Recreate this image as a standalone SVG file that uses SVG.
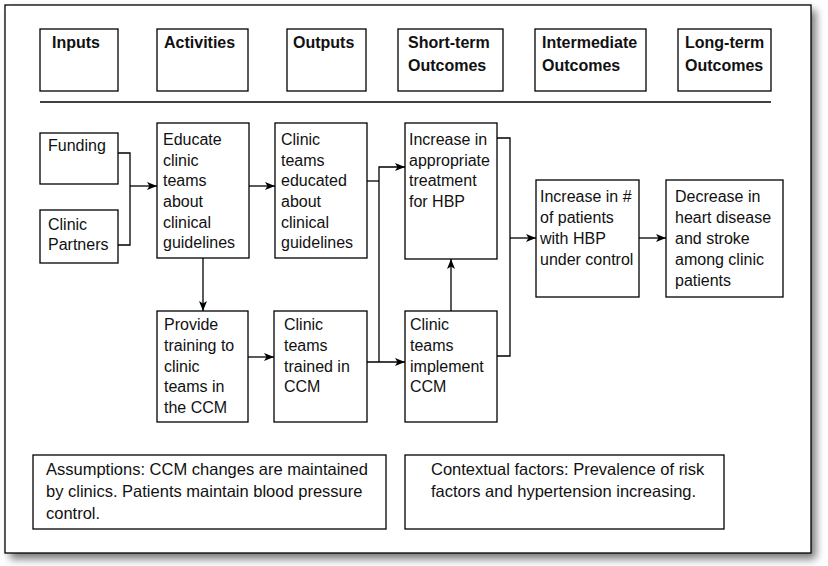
<svg xmlns="http://www.w3.org/2000/svg" width="828" height="566" viewBox="0 0 828 566">
<defs>
<style>
.box{fill:#fff;stroke:#000;stroke-width:1.3}
.t{font-family:"Liberation Sans",Arial,sans-serif;font-size:16px;fill:#111}
.h{font-family:"Liberation Sans",Arial,sans-serif;font-size:16px;font-weight:bold;fill:#111}
.b{font-family:"Liberation Sans",Arial,sans-serif;font-size:16.5px;fill:#111}
.c{fill:none;stroke:#000;stroke-width:1.3}
</style>
<marker id="ah" viewBox="0 0 10 8" refX="10" refY="4" markerWidth="10" markerHeight="8" markerUnits="userSpaceOnUse" orient="auto">
<path d="M0,0 L10,4 L0,8 L2.5,4 Z" fill="#000"/>
</marker>
<filter id="sh" x="-5%" y="-5%" width="110%" height="110%">
<feGaussianBlur stdDeviation="4"/>
</filter>
</defs>
<rect width="828" height="566" fill="#fff"/>
<rect x="10" y="10" width="806" height="549" fill="#777" filter="url(#sh)"/>
<rect id="frame" x="5" y="5" width="806" height="548" fill="#fff" stroke="#000" stroke-width="1.3"/>

<g id="h-inputs"><rect class="box" x="40" y="29" width="78" height="62"/><text class="h" x="52" y="48">Inputs</text></g>
<g id="h-activities"><rect class="box" x="157" y="29" width="91" height="62"/><text class="h" x="164" y="48">Activities</text></g>
<g id="h-outputs"><rect class="box" x="287" y="29" width="79" height="62"/><text class="h" x="293" y="48">Outputs</text></g>
<g id="h-short"><rect class="box" x="398" y="29" width="105" height="62"/><text class="h" x="408" y="48">Short-term</text><text class="h" x="408" y="71">Outcomes</text></g>
<g id="h-inter"><rect class="box" x="535" y="29" width="111" height="62"/><text class="h" x="542" y="48">Intermediate</text><text class="h" x="542" y="71">Outcomes</text></g>
<g id="h-long"><rect class="box" x="678" y="29" width="93" height="62"/><text class="h" x="685" y="48">Long-term</text><text class="h" x="685" y="71">Outcomes</text></g>
<line x1="40" y1="102" x2="771" y2="102" stroke="#000" stroke-width="1.3"/>

<g id="funding"><rect class="box" x="40" y="133" width="78" height="51"/><text class="t" x="48" y="151">Funding</text></g>
<g id="partners"><rect class="box" x="40" y="210" width="78" height="53"/><text class="t" x="48" y="230">Clinic</text><text class="t" x="48" y="250">Partners</text></g>
<g id="educate"><rect class="box" x="157" y="123" width="92" height="135"/>
<text class="t" x="163" y="145">Educate</text><text class="t" x="163" y="166">clinic</text><text class="t" x="163" y="186">teams</text><text class="t" x="163" y="207">about</text><text class="t" x="163" y="228">clinical</text><text class="t" x="163" y="248">guidelines</text></g>
<g id="educated"><rect class="box" x="275" y="123" width="92" height="135"/>
<text class="t" x="281" y="145">Clinic</text><text class="t" x="281" y="166">teams</text><text class="t" x="281" y="186">educated</text><text class="t" x="281" y="207">about</text><text class="t" x="281" y="228">clinical</text><text class="t" x="281" y="248">guidelines</text></g>
<g id="treatment"><rect class="box" x="405" y="123" width="92" height="136"/>
<text class="t" x="409" y="145">Increase in</text><text class="t" x="409" y="166">appropriate</text><text class="t" x="409" y="186">treatment</text><text class="t" x="409" y="207">for HBP</text></g>
<g id="control"><rect class="box" x="536" y="180" width="103" height="117"/>
<text class="t" x="540" y="202">Increase in #</text><text class="t" x="540" y="223">of patients</text><text class="t" x="540" y="244">with HBP</text><text class="t" x="540" y="265">under control</text></g>
<g id="decrease"><rect class="box" x="666" y="180" width="117" height="117"/>
<text class="t" x="675" y="202">Decrease in</text><text class="t" x="675" y="223">heart disease</text><text class="t" x="675" y="244">and stroke</text><text class="t" x="675" y="265">among clinic</text><text class="t" x="675" y="286">patients</text></g>
<g id="provide"><rect class="box" x="157" y="311" width="91" height="111"/>
<text class="t" x="164" y="330">Provide</text><text class="t" x="164" y="351">training to</text><text class="t" x="164" y="372">clinic</text><text class="t" x="164" y="392">teams in</text><text class="t" x="164" y="413">the CCM</text></g>
<g id="trained"><rect class="box" x="274" y="311" width="93" height="111"/>
<text class="t" x="284" y="330">Clinic</text><text class="t" x="284" y="351">teams</text><text class="t" x="284" y="372">trained in</text><text class="t" x="284" y="392">CCM</text></g>
<g id="implement"><rect class="box" x="405" y="311" width="92" height="111"/>
<text class="t" x="410" y="330">Clinic</text><text class="t" x="410" y="351">teams</text><text class="t" x="410" y="372">implement</text><text class="t" x="410" y="392">CCM</text></g>

<g id="assumptions"><rect class="box" x="33" y="455" width="353" height="74"/>
<text class="b" x="46" y="475">Assumptions: CCM changes are maintained</text><text class="b" x="46" y="497">by clinics. Patients maintain blood pressure</text><text class="b" x="46" y="519">control.</text></g>
<g id="context"><rect class="box" x="405" y="455" width="319" height="74"/>
<text class="b" x="431" y="475">Contextual factors: Prevalence of risk</text><text class="b" x="431" y="497">factors and hypertension increasing.</text></g>

<g id="connectors">
<path class="c" d="M118,153 H130 V245 H118"/>
<path class="c" d="M130,186 H157" marker-end="url(#ah)"/>
<path class="c" d="M249,186 H275" marker-end="url(#ah)"/>
<path class="c" d="M367,181 H379"/>
<path class="c" d="M379,362 V167 H405" marker-end="url(#ah)"/>
<path class="c" d="M367,362 H405" marker-end="url(#ah)"/>
<path class="c" d="M203,258 V311" marker-end="url(#ah)"/>
<path class="c" d="M248,357 H274" marker-end="url(#ah)"/>
<path class="c" d="M451,311 V259" marker-end="url(#ah)"/>
<path class="c" d="M497,138 H510 V356 H497"/>
<path class="c" d="M510,238 H536" marker-end="url(#ah)"/>
<path class="c" d="M639,238 H666" marker-end="url(#ah)"/>
</g>
</svg>
